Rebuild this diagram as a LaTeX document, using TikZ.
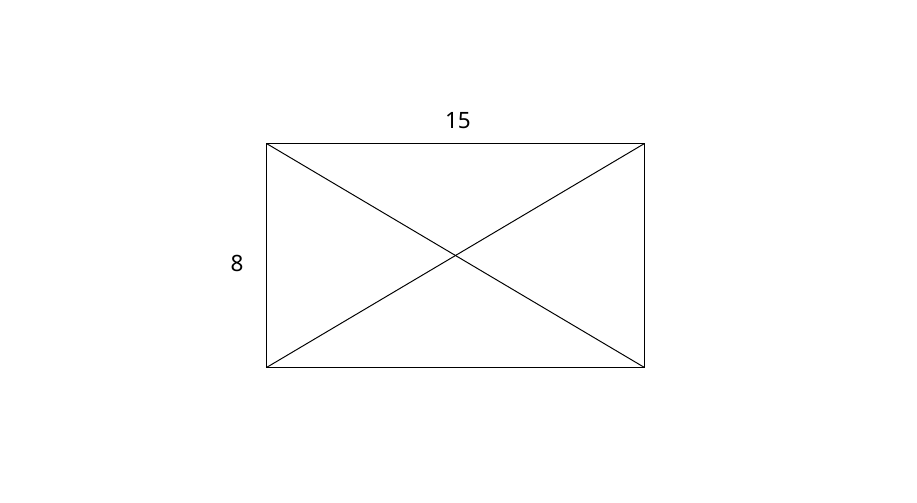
\documentclass[tikz,border=0pt]{standalone}
\usepackage{fontspec}
\setmainfont{Noto Sans}
\begin{document}
\begin{tikzpicture}[x=0.01cm,y=-0.01cm,
  edge/.style={line width=0.28pt,black},
  lbl/.style={font=\fontsize{6.4pt}{7pt}\selectfont,inner sep=0pt}]
\useasboundingbox (0,0) rectangle (917,502);
\coordinate (A) at (266.5,143.5);
\coordinate (B) at (644.5,143.5);
\coordinate (C) at (644.5,367.5);
\coordinate (D) at (266.5,367.5);
\draw[edge] (A) -- (B) -- (C) -- (D) -- cycle;
\draw[edge] (A) -- (C);
\draw[edge] (B) -- (D);
\node[lbl] (top) at (458,121) {15};
\node[lbl] (left) at (237,263) {8};
\end{tikzpicture}
\end{document}
